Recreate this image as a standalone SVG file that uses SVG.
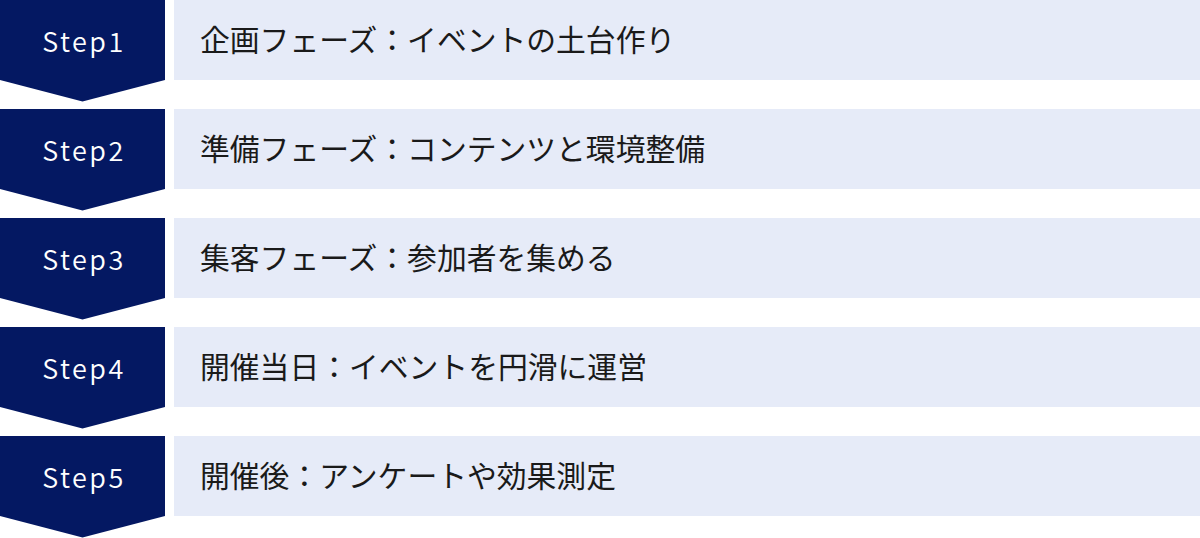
<svg xmlns="http://www.w3.org/2000/svg" width="1200" height="538" viewBox="0 0 1200 538">
<style>
.chev{fill:#041862}
.bar{fill:#E6EBF8}
.step{font-family:"Noto Sans CJK JP","Noto Sans",sans-serif;font-size:27px;font-weight:350;fill:#ffffff;text-anchor:middle;letter-spacing:2.5px}
.lbl{font-family:"Noto Sans CJK JP","Noto Sans",sans-serif;font-size:29.8px;fill:#1a1a1a}
</style>
<defs>
<path id="chevron" d="M0 0H165V80L82.5 101.5L0 80Z"/>
</defs>
<rect width="1200" height="538" fill="#ffffff"/>
<g id="step1" transform="translate(0,0)">
<use href="#chevron" class="chev"/>
<rect class="bar" x="174" y="0" width="1026" height="80"/>
<text class="step" x="84" y="52">Step1</text>
<text class="lbl" x="200" y="51">企画フェーズ：イベントの土台作り</text>
</g>
<g id="step2" transform="translate(0,109)">
<use href="#chevron" class="chev"/>
<rect class="bar" x="174" y="0" width="1026" height="80"/>
<text class="step" x="84" y="52">Step2</text>
<text class="lbl" x="200" y="51">準備フェーズ：コンテンツと環境整備</text>
</g>
<g id="step3" transform="translate(0,218)">
<use href="#chevron" class="chev"/>
<rect class="bar" x="174" y="0" width="1026" height="80"/>
<text class="step" x="84" y="52">Step3</text>
<text class="lbl" x="200" y="51">集客フェーズ：参加者を集める</text>
</g>
<g id="step4" transform="translate(0,327)">
<use href="#chevron" class="chev"/>
<rect class="bar" x="174" y="0" width="1026" height="80"/>
<text class="step" x="84" y="52">Step4</text>
<text class="lbl" x="200" y="51">開催当日：イベントを円滑に運営</text>
</g>
<g id="step5" transform="translate(0,436)">
<use href="#chevron" class="chev"/>
<rect class="bar" x="174" y="0" width="1026" height="80"/>
<text class="step" x="84" y="52">Step5</text>
<text class="lbl" x="200" y="51">開催後：アンケートや効果測定</text>
</g>
<g id="connectors"></g>
</svg>
